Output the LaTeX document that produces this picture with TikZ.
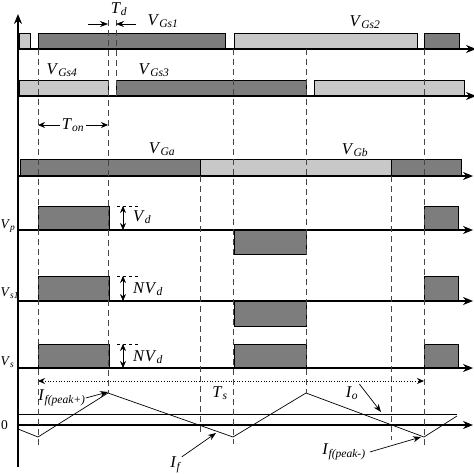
\documentclass[tikz,border=0pt]{standalone}
\usepackage{fontspec}
\setmainfont{Liberation Serif}
\usetikzlibrary{arrows.meta, positioning}
\definecolor{pulsedark}{RGB}{125, 125, 125}
\definecolor{pulselight}{RGB}{200, 200, 200}
\definecolor{guidegray}{RGB}{70, 70, 70}
\newcommand{\sig}[2]{\textit{#1}\textsubscript{\textit{#2}}}

\begin{document}
\begin{tikzpicture}[x=1pt, y=-1pt,
    axis/.style={line width=1.3pt, -{Stealth[length=10pt, width=8pt]}},
    darkpulse/.style={draw=black, line width=0.6pt, fill=pulsedark},
    lightpulse/.style={draw=black, line width=0.6pt, fill=pulselight},
    guide/.style={guidegray, dash pattern=on 6pt off 4pt, line width=0.9pt},
    lbl/.style={font=\fontsize{16.5}{18}\selectfont, inner sep=0pt},
    sidelbl/.style={font=\fontsize{13.5}{15}\selectfont, inner sep=0pt, anchor=west},
    pointer/.style={line width=0.7pt, -{Stealth[length=8pt, width=6pt]}},
    twoway/.style={line width=0.7pt, {Stealth[length=7pt, width=6pt]}-{Stealth[length=7pt, width=6pt]}}]
    % Page - 474 x 474
    \useasboundingbox (0,0) rectangle (474,474);

    % Row 1: gate signals V_Gs1 / V_Gs2
    \draw[lightpulse] (19,49) rectangle (30,33);
    \draw[darkpulse] (38,49) rectangle (225,33);
    \draw[lightpulse] (234,49) rectangle (417,33);
    \draw[darkpulse] (424,49) rectangle (459,33);
    \draw[axis] (18,49) -- (476,49);

    % Row 2: gate signals V_Gs4 / V_Gs3
    \draw[lightpulse] (19,96) rectangle (108,80);
    \draw[darkpulse] (116,96) rectangle (306,80);
    \draw[lightpulse] (314,96) rectangle (464,80);
    \draw[axis] (18,96) -- (476,96);

    % Row 3: gate signals V_Ga / V_Gb
    \draw[darkpulse] (20,176) rectangle (200,159);
    \draw[lightpulse] (200,176) rectangle (391,159);
    \draw[darkpulse] (391,176) rectangle (461,159);
    \draw[axis] (18,176) -- (473,176);

    % Row 4: primary voltage V_p
    \draw[darkpulse] (38,230) rectangle (109,206);
    \draw[darkpulse] (234,230) rectangle (306,254);
    \draw[darkpulse] (424,230) rectangle (458,206);
    \draw[axis] (18,230) -- (473,230);

    % Row 5: secondary voltage V_s1
    \draw[darkpulse] (38,301) rectangle (109,276);
    \draw[darkpulse] (234,301) rectangle (306,326);
    \draw[darkpulse] (424,301) rectangle (458,276);
    \draw[axis] (18,301) -- (473,301);

    % Row 6: rectified voltage V_s
    \foreach \xa/\xb in {38/109, 234/306, 424/458} {
        \draw[darkpulse] (\xa,368) rectangle (\xb,344);
    }
    \draw[axis] (18,368) -- (473,368);

    % Row 7: filter current I_f and load current I_o
    \draw[line width=0.7pt] (18,414) -- (457,414);
    \draw[axis] (18,425) -- (473,425);
    \draw[line width=0.7pt] (18,429) -- (38,437) -- (108,393) -- (233,437)
        -- (306,393) -- (424,437) -- (457,416);

    % Vertical time guides
    \foreach \x/\ya/\yb in {38/49/445, 108/20/393, 116/20/96, 200/176/432,
                            233/49/444, 306/49/393, 391/176/440, 424/49/446} {
        \draw[guide] (\x,\ya) -- (\x,\yb);
    }

    % Vertical axis
    \draw[axis] (18,467) -- (18,14);

    % Signal labels
    \node[lbl] (vgs1) at (163,21) {\sig{V}{Gs1}};
    \node[lbl] (vgs2) at (365,22) {\sig{V}{Gs2}};
    \node[lbl] (vgs4) at (62,70) {\sig{V}{Gs4}};
    \node[lbl] (vgs3) at (154,70) {\sig{V}{Gs3}};
    \node[lbl] (vga) at (162,149) {\sig{V}{Ga}};
    \node[lbl] (vgb) at (355,150) {\sig{V}{Gb}};
    \node[sidelbl] (vp) at (0.5,226) {\sig{V}{p}};
    \node[sidelbl] (vs1) at (0.5,293) {\sig{V}{s1}};
    \node[sidelbl] (vs) at (0.5,362) {\sig{V}{s}};
    \node[sidelbl] (zero) at (1,425) {0};

    % Dead time T_d
    \node[lbl] (td) at (119,9) {\sig{T}{d}};
    \coordinate (td-left) at (108,24);
    \coordinate (td-right) at (116,24);
    \coordinate (td-left-tail) at (88,24);
    \coordinate (td-right-tail) at (136,24);
    \draw[pointer] (td-left-tail) -- (td-left);
    \draw[pointer] (td-right-tail) -- (td-right);

    % On time T_on
    \coordinate (ton-a) at (38,125);
    \coordinate (ton-b) at (108,125);
    \draw[twoway] (ton-a) -- node[lbl, fill=white, inner sep=2pt] (ton) {\sig{T}{on}} (ton-b);

    % Amplitudes V_d and N V_d
    \foreach \ytop/\ybase/\ytext/\txt/\nm in {206/230/217/{\sig{V}{d}}/vd,
                                              276/301/289/{\textit{N}\sig{V}{d}}/nvd1,
                                              344/368/357/{\textit{N}\sig{V}{d}}/nvd2} {
        \coordinate (\nm-top) at (123,\ytop);
        \coordinate (\nm-base) at (123,\ybase);
        \draw[twoway] (\nm-top) -- (\nm-base);
        \draw[line width=0.6pt, dashed] (117,\ytop) -- (139,\ytop);
        \node[lbl, anchor=west] (\nm) at (133,\ytext) {\txt};
    }

    % Switching period T_s
    \coordinate (ts-a) at (38,381);
    \coordinate (ts-b) at (424,381);
    \draw[twoway, dotted, line width=0.9pt] (ts-a) -- (ts-b);
    \node[lbl] (ts) at (220,393) {\sig{T}{s}};

    % Current labels and pointers
    \node[lbl] (ifpp) at (62,398) {\sig{I}{f(peak+)}};
    \coordinate (peak-pos) at (108,392);
    \draw[pointer] (ifpp.east) -- (peak-pos);

    \node[lbl] (if) at (176,465) {\sig{I}{f}};
    \coordinate (if-pt) at (216,433);
    \draw[pointer] (if.north east) -- (if-pt);

    \node[lbl] (io) at (352,393) {\sig{I}{o}};
    \coordinate (io-pt) at (381,412);
    \draw[pointer] (io.north east) ++(1,-2) -- (io-pt);

    \node[lbl] (ifpm) at (344,452) {\sig{I}{f(peak-)}};
    \coordinate (peak-neg) at (421,437);
    \draw[pointer] (ifpm.east) ++(4,0) -- (peak-neg);

\end{tikzpicture}
\end{document}
